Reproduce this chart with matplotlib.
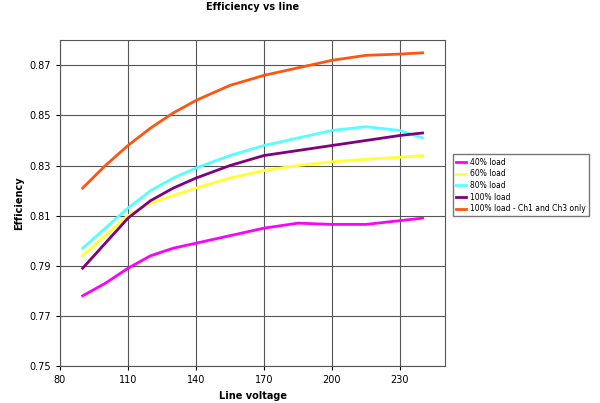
import matplotlib
matplotlib.use("Agg")
import matplotlib.pyplot as plt

x = [90, 100, 110, 120, 130, 140, 155, 170, 185, 200, 215, 230, 240]
load40 = [0.778, 0.783, 0.789, 0.794, 0.797, 0.799, 0.802, 0.805, 0.807, 0.8065, 0.8065, 0.808, 0.809]
load60 = [0.794, 0.802, 0.810, 0.815, 0.818, 0.821, 0.825, 0.828, 0.830, 0.8315, 0.8325, 0.8333, 0.834]
load80 = [0.797, 0.805, 0.813, 0.820, 0.825, 0.829, 0.834, 0.838, 0.841, 0.844, 0.8455, 0.844, 0.841]
load100 = [0.789, 0.799, 0.809, 0.816, 0.821, 0.825, 0.830, 0.834, 0.836, 0.838, 0.840, 0.842, 0.843]
load100_ch13 = [0.821, 0.830, 0.838, 0.845, 0.851, 0.856, 0.862, 0.866, 0.869, 0.872, 0.874, 0.8745, 0.875]
labels = ["40% load", "60% load", "80% load", "100% load", "100% load - Ch1 and Ch3 only"]
colors = ["#ff00ff", "#ffff33", "#55ffff", "#800080", "#ff5511"]

fig = plt.figure(figsize=(6, 4.03), dpi=100)
ax = fig.add_axes([0.1, 0.092, 0.642, 0.808])
for ys, lab, c in zip([load40, load60, load80, load100, load100_ch13], labels, colors):
    ax.plot(x, ys, color=c, lw=2, label=lab)
ax.set_xlim(80, 250)
ax.set_ylim(0.75, 0.88)
ax.set_xticks(range(80, 231, 30))
ax.set_yticks([0.75, 0.77, 0.79, 0.81, 0.83, 0.85, 0.87])
ax.set_yticklabels(["0.75", "0.77", "0.79", "0.81", "0.83", "0.85", "0.87"])
ax.tick_params(labelsize=7, length=3)
ax.grid(True, color="#555555", lw=0.8)
for s in ax.spines.values():
    s.set_color("#555555")
ax.set_xlabel("Line voltage", fontsize=7, fontweight="bold")
ax.set_ylabel("Efficiency", fontsize=7, fontweight="bold")
ax.set_title("Efficiency vs line", fontsize=7, fontweight="bold", pad=22)
fig.legend(loc="center left", bbox_to_anchor=(0.748, 0.54), fontsize=5.5,
           frameon=True, fancybox=False, edgecolor="#555555", handlelength=1.4,
           handletextpad=0.5, borderpad=0.4, labelspacing=0.35)
fig.savefig("out.png", dpi=100)
